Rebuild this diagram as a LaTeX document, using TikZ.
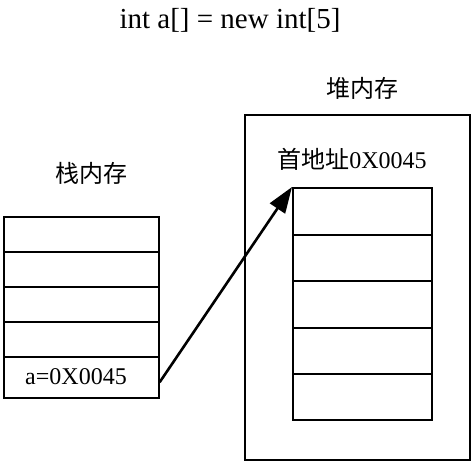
\documentclass[tikz,border=0pt]{standalone}
\usepackage{fontspec}
\setmainfont{Liberation Serif}
\newfontfamily\cjk{Noto Sans CJK SC}
\usetikzlibrary{arrows.meta}
\begin{document}
\begin{tikzpicture}[x=1bp,y=-1bp,
  cell/.style={draw,line width=1.6bp,rectangle,inner sep=0pt,anchor=north west,minimum width=#1},
  lbl/.style={inner sep=0pt,font=\fontsize{24bp}{28bp}\selectfont},
  link/.style={line width=2.6bp,-{Triangle[length=26bp,width=18bp]}}]
\useasboundingbox (0,0) rectangle (474,466);
% title
\node[lbl,font=\fontsize{29bp}{32bp}\selectfont] (title) at (230,20) {int a[] = new int[5]};
% stack
\node[lbl] (stacklbl) at (91,173) {\cjk 栈内存};
\node[cell=155bp,minimum height=35bp] (s1) at (3,216) {};
\node[cell=155bp,minimum height=35bp] (s2) at (3,251) {};
\node[cell=155bp,minimum height=35bp] (s3) at (3,286) {};
\node[cell=155bp,minimum height=35bp] (s4) at (3,321) {};
\node[cell=155bp,minimum height=41bp] (s5) at (3,356) {};
\node[lbl] (aval) at (76,377) {a=0X0045};
% heap
\node[lbl] (heaplbl) at (362,88) {\cjk 堆内存};
\node[cell=225bp,minimum height=345bp] (heap) at (244,114) {};
\node[lbl] (addr) at (352,159) {{\cjk 首地址}0X0045};
\node[cell=139bp,minimum height=47bp] (h1) at (292,187) {};
\node[cell=139bp,minimum height=46bp] (h2) at (292,234) {};
\node[cell=139bp,minimum height=47bp] (h3) at (292,280) {};
\node[cell=139bp,minimum height=46bp] (h4) at (292,327) {};
\node[cell=139bp,minimum height=46bp] (h5) at (292,373) {};
% pointer
\coordinate (start) at ([yshift=-5bp]s5.east);
\draw[link] (start) -- (h1.north west);
\end{tikzpicture}
\end{document}
